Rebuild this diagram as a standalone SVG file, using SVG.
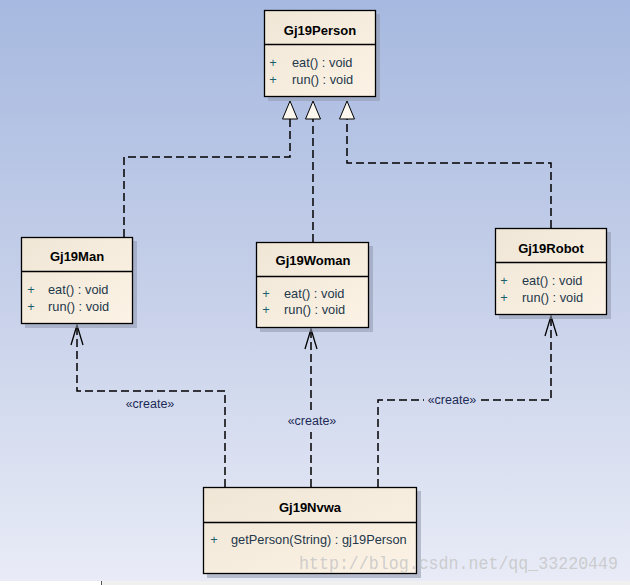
<svg xmlns="http://www.w3.org/2000/svg" width="630" height="585" viewBox="0 0 630 585">
<defs>
<linearGradient id="bg" x1="0" y1="0" x2="0" y2="1">
<stop offset="0" stop-color="#a7b9e0"/>
<stop offset="0.5" stop-color="#c6d0e9"/>
<stop offset="1" stop-color="#e9ecf7"/>
</linearGradient>
<linearGradient id="nodeFill" x1="0" y1="0" x2="1" y2="1">
<stop offset="0" stop-color="#efe6d6"/>
<stop offset="1" stop-color="#fcf3e6"/>
</linearGradient>
<marker id="tri" viewBox="0 0 20 20" refX="1" refY="10" markerWidth="20" markerHeight="20" markerUnits="userSpaceOnUse" orient="auto">
<path d="M1,2.5 L19,10 L1,17.5 Z" fill="#fbf6ee" stroke="#000" stroke-width="1"/>
</marker>
<marker id="open" viewBox="0 0 22 14" refX="21" refY="7" markerWidth="22" markerHeight="14" markerUnits="userSpaceOnUse" orient="auto">
<path d="M1,1 L21,7 L1,13" fill="none" stroke="#000" stroke-width="1.3"/>
</marker>
</defs>
<style>
.box{fill:url(#nodeFill);stroke:#000;stroke-width:1.3}
.sh{fill:#8f98ad;opacity:0.55}
.div{stroke:#000;stroke-width:1.3}
.title{font-family:"Liberation Sans",Arial,sans-serif;font-size:13px;font-weight:bold;fill:#000;text-anchor:middle}
.op{font-family:"Liberation Sans",Arial,sans-serif;font-size:12.8px;fill:#24384a}
.plus{font-family:"Liberation Sans",Arial,sans-serif;font-size:12.8px;fill:#1b5f6e;text-anchor:middle}
.edge{fill:none;stroke:#000;stroke-width:1.5;stroke-dasharray:8,4}
.lbl{font-family:"Liberation Sans",Arial,sans-serif;font-size:12.5px;fill:#1c2a55;text-anchor:middle}
</style>
<rect x="0" y="0" width="630" height="585" fill="url(#bg)"/>
<rect x="0" y="581" width="630" height="4" fill="#ffffff"/>
<rect x="102" y="581" width="528" height="4" fill="#f0f0f0"/>
<line x1="101.5" y1="581" x2="101.5" y2="585" stroke="#555" stroke-width="1"/>

<g id="connectors">
<path class="edge" d="M124,237 V157 H290 V119" marker-end="url(#tri)"/>
<path class="edge" d="M313,242 V119" marker-end="url(#tri)"/>
<path class="edge" d="M551,228 V163 H347 V119" marker-end="url(#tri)"/>
<path class="edge" d="M225,487 V391 H77 V325" marker-end="url(#open)"/>
<text class="lbl" x="150" y="408">«create»</text>
<path class="edge" d="M311,487 V432"/>
<path class="edge" d="M311,410 V329" marker-end="url(#open)"/>
<text class="lbl" x="312" y="425">«create»</text>
<path class="edge" d="M378,487 V400 H424"/>
<path class="edge" d="M481,400 H551 V316" marker-end="url(#open)"/>
<text class="lbl" x="452" y="404">«create»</text>
</g>

<g id="Gj19Person">
<rect class="sh" x="268" y="14" width="112" height="87"/>
<rect class="box" x="264.5" y="10.5" width="111" height="86"/>
<line class="div" x1="264.5" y1="44.5" x2="375.5" y2="44.5"/>
<text class="title" x="320" y="35">Gj19Person</text>
<text class="plus" x="273" y="67">+</text><text class="op" x="292" y="67">eat() : void</text>
<text class="plus" x="273" y="84">+</text><text class="op" x="292" y="84">run() : void</text>
</g>

<g id="Gj19Man">
<rect class="sh" x="25" y="241" width="112" height="87"/>
<rect class="box" x="21.5" y="237.5" width="111" height="86"/>
<line class="div" x1="21.5" y1="271.5" x2="132.5" y2="271.5"/>
<text class="title" x="77" y="261">Gj19Man</text>
<text class="plus" x="31" y="294">+</text><text class="op" x="48" y="294">eat() : void</text>
<text class="plus" x="31" y="311">+</text><text class="op" x="48" y="311">run() : void</text>
</g>

<g id="Gj19Woman">
<rect class="sh" x="260" y="246" width="113" height="86"/>
<rect class="box" x="256.5" y="242.5" width="112" height="85"/>
<line class="div" x1="256.5" y1="276.5" x2="368.5" y2="276.5"/>
<text class="title" x="313" y="265">Gj19Woman</text>
<text class="plus" x="266" y="298">+</text><text class="op" x="284" y="298">eat() : void</text>
<text class="plus" x="266" y="314">+</text><text class="op" x="284" y="314">run() : void</text>
</g>

<g id="Gj19Robot">
<rect class="sh" x="499" y="232" width="112" height="87"/>
<rect class="box" x="495.5" y="228.5" width="111" height="86"/>
<line class="div" x1="495.5" y1="262.5" x2="606.5" y2="262.5"/>
<text class="title" x="551" y="253">Gj19Robot</text>
<text class="plus" x="504" y="285">+</text><text class="op" x="522" y="285">eat() : void</text>
<text class="plus" x="504" y="302">+</text><text class="op" x="522" y="302">run() : void</text>
</g>

<g id="Gj19Nvwa">
<rect class="sh" x="207" y="491" width="214" height="87"/>
<rect class="box" x="203.5" y="487.5" width="213" height="86"/>
<line class="div" x1="203.5" y1="522.5" x2="416.5" y2="522.5"/>
<text class="title" x="310" y="512">Gj19Nvwa</text>
<text class="plus" x="214" y="544">+</text><text class="op" x="231" y="544">getPerson(String) : gj19Person</text>
</g>

<text x="299" y="569" font-family="'Liberation Mono',monospace" font-size="18" fill="#c4c4c4" fill-opacity="0.8" textLength="319" lengthAdjust="spacingAndGlyphs">http://blog.csdn.net/qq_33220449</text>
</svg>
